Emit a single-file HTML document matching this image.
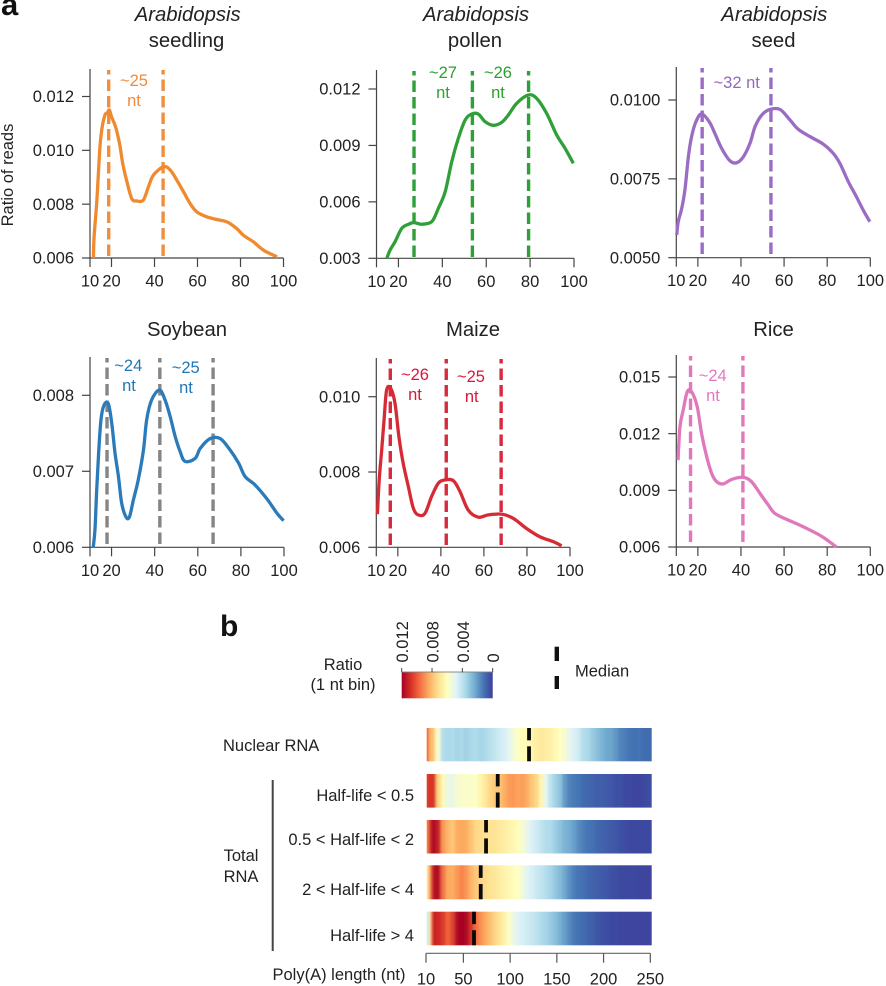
<!DOCTYPE html>
<html lang="en">
<head>
<meta charset="utf-8">
<title>Poly(A) length distributions</title>
<style>
html,body{margin:0;padding:0;background:#fff;}
svg{display:block;}
text{font-family:"Liberation Sans",sans-serif;fill:#222;font-size:16.5px;}
.title{font-size:20.3px;text-anchor:middle;}
.ann{text-anchor:middle;}
.end{text-anchor:end;}
</style>
</head>
<body>
<svg id="figure" xmlns="http://www.w3.org/2000/svg" width="886" height="986" viewBox="0 0 886 986">
  <rect width="886" height="986" fill="#fff"/>
  <text x="1" y="15" style="font-size:31px;font-weight:bold;fill:#111">a</text>
  <text x="220" y="636" style="font-size:30px;font-weight:bold;fill:#111">b</text>

  <text transform="translate(13,175) rotate(-90)" text-anchor="middle">Ratio of reads</text>

  <text class="title" x="187.7" y="21" font-style="italic">Arabidopsis</text>
  <text class="title" x="186.5" y="47">seedling</text>
  <text class="title" x="476" y="21" font-style="italic">Arabidopsis</text>
  <text class="title" x="475" y="47">pollen</text>
  <text class="title" x="774.3" y="21" font-style="italic">Arabidopsis</text>
  <text class="title" x="773.5" y="47">seed</text>
  <text class="title" x="187" y="336">Soybean</text>
  <text class="title" x="473" y="336">Maize</text>
  <text class="title" x="773.5" y="336">Rice</text>

  <g id="plots"></g>

  <text class="ann" x="134" y="86" style="fill:#f08a3c">~25</text>
  <text class="ann" x="134" y="106" style="fill:#f08a3c">nt</text>
  <text class="ann" x="443" y="78" style="fill:#2ca02c">~27</text>
  <text class="ann" x="443" y="98" style="fill:#2ca02c">nt</text>
  <text class="ann" x="498" y="78" style="fill:#2ca02c">~26</text>
  <text class="ann" x="498" y="98" style="fill:#2ca02c">nt</text>
  <text class="ann" x="736.7" y="88" style="fill:#9467bd">~32 nt</text>
  <text class="ann" x="128.3" y="371" style="fill:#1f77b4">~24</text>
  <text class="ann" x="129" y="391" style="fill:#1f77b4">nt</text>
  <text class="ann" x="185.7" y="373" style="fill:#1f77b4">~25</text>
  <text class="ann" x="186" y="393" style="fill:#1f77b4">nt</text>
  <text class="ann" x="415" y="380" style="fill:#d9163c">~26</text>
  <text class="ann" x="415" y="400" style="fill:#d9163c">nt</text>
  <text class="ann" x="471" y="382" style="fill:#d9163c">~25</text>
  <text class="ann" x="471.7" y="402" style="fill:#d9163c">nt</text>
  <text class="ann" x="712.7" y="381" style="fill:#e377c2">~24</text>
  <text class="ann" x="713" y="401" style="fill:#e377c2">nt</text>

  <text x="343" y="670" text-anchor="middle">Ratio</text>
  <text x="343" y="690" text-anchor="middle">(1 nt bin)</text>
  <g id="colorbar"></g>

  <rect x="554.6" y="646.7" width="4.4" height="14.3" fill="#111"/>
  <rect x="554.6" y="676" width="4.4" height="13" fill="#111"/>
  <text x="575" y="676.5">Median</text>

  <text x="223" y="751">Nuclear RNA</text>
  <text class="end" x="414" y="801">Half-life &lt; 0.5</text>
  <text class="end" x="414" y="845">0.5 &lt; Half-life &lt; 2</text>
  <text class="end" x="414" y="895">2 &lt; Half-life &lt; 4</text>
  <text class="end" x="414" y="941">Half-life &gt; 4</text>
  <text x="241" y="861" text-anchor="middle">Total</text>
  <text x="241" y="882" text-anchor="middle">RNA</text>
  <line x1="272.7" y1="780" x2="272.7" y2="951" stroke="#444" stroke-width="2"/>
  <text x="272.5" y="980">Poly(A) length (nt)</text>

  <g id="heatmap"></g>
</svg>

<script>
// ---------- Panel a: line plot data ----------
const seedlingLengths = [11.6,11.9,13.1,13.9,14.7,15.7,17,18,19,20,21.6,22.7,24,25.2,27,29.4,31.7,34.8,37.2,39.5,44.2,47.3,50.4,53.5,56.6,59.7,64.3,69,73.7,78.3,81.4,86,90.7,97];
const seedlingRatios = [.006,.00678,.00802,.00914,.0102,.01088,.01132,.01138,.0115,.01125,.01094,.01063,.01014,.00952,.00889,.00821,.00812,.00815,.00865,.00908,.00939,.00927,.00889,.00846,.00802,.00771,.00753,.00743,.00734,.00709,.00684,.0066,.00629,.00604];
const seedlingPeaks = [18.7,44];
const seedlingTicks = [.006,.008,.010,.012];

const pollenLengths = [14.7,16.2,18.5,21.5,24.6,27.1,30.6,35.2,38.2,41.3,44.3,47.3,50.4,53.4,56.4,59.5,63.3,67.1,70.1,73.9,79.2,83,87.5,92.1,95.9,99.7];
const pollenRatios = [.003,.00344,.00389,.00459,.00481,.0049,.00481,.00495,.00566,.00654,.00814,.00938,.01035,.01067,.01067,.01026,.01007,.01023,.01062,.01124,.01168,.0115,.01071,.00956,.00885,.00805];
const pollenPeaks = [27.1,53.7,79.3];
const pollenTicks = [.003,.006,.009,.012];

const seedLengths = [10.2,10.9,12.5,14,15.6,17.1,19.1,21.7,25.3,27.9,31,34.9,38,41.1,44.2,46.5,49.6,53.4,58.1,62.7,66.6,72,78.2,82.8,85.9,89.8,93.6,96.7,99.8];
const seedRatios = [.00572,.00614,.00656,.00715,.0082,.00884,.00931,.00956,.00931,.00894,.00847,.00807,.00801,.0082,.00863,.00915,.00952,.0097,.0097,.00937,.00907,.00884,.0086,.00831,.00799,.00741,.00693,.00651,.00614];
const seedPeaks = [22,53.9];
const seedTicks = [.005,.0075,.01];

const soybeanLengths = [11.5,12.3,13.1,14,15.1,16.5,18.5,20.1,21.6,23.2,24.7,26.7,28.3,30.1,32.4,34.8,36.3,38.6,42.2,44.8,47.2,49.5,51.8,54.1,58.8,61.1,65.7,70.4,75,78.9,82,86.6,92,96.7,99.8];
const soybeanRatios = [.006,.00623,.00675,.00724,.00768,.00787,.00789,.00763,.00724,.00693,.00658,.0064,.0064,.00662,.00689,.00728,.00768,.00794,.00807,.00794,.00772,.00746,.00726,.00713,.00717,.0073,.00743,.00743,.00728,.00711,.00693,.00682,.00664,.00645,.00635];
const soybeanPeaks = [17.9,42.4,67.1];
const soybeanTicks = [.006,.007,.008];

const maizeLengths = [10.5,11.4,12.5,13.6,14.8,16.7,18.7,20.5,22.5,24.9,27.2,29.5,32.6,35.7,38.8,41.9,45.8,48.9,52.7,57.4,62,68.2,73.6,79.8,86,92.2,96.1];
const maizeRatios = [.00688,.00783,.00858,.00938,.01018,.01022,.00982,.00894,.00823,.00761,.00704,.00686,.0069,.00735,.0077,.00779,.00777,.00748,.00699,.0068,.00686,.00688,.00677,.0065,.00628,.00615,.00604];
const maizePeaks = [16.5,42.5,68];
const maizeTicks = [.006,.008,.010];

const riceLengths = [10.8,11.7,13.2,15.1,17.1,19.7,21.7,24.1,26.4,28.7,31.8,35.7,41.1,44.9,48.8,52.7,55.7,61.2,67.3,73.5,78.2,84.3];
const riceRatios = [.0106,.01237,.01325,.01422,.01422,.01343,.01202,.01078,.0099,.00946,.00934,.00958,.00969,.00946,.00884,.00822,.00778,.00746,.00716,.00681,.00651,.006];
const ricePeaks = [16.6,40.9];
const riceTicks = [.006,.009,.012,.015];

const lengthTicks = [10,20,40,60,80,100];

// ---------- Panel b: heatmap data ----------
const binStarts = [10,12,14,16,18,20,25,30,35,40,45,50,55,60,65,70,75,80,85,90,95,100,105,110,115,120,125,130,135,140,145,150,155,160,165,170,175,180,185,190,195,200,205,210,215,220,225,230,235,240,245,250];
const nuclearValues = [.0098,.0085,.0078,.0084,.0066,.0056,.0038,.0036,.0037,.0035,.0036,.0034,.0036,.0037,.0035,.0036,.0039,.0041,.0044,.0046,.0049,.0055,.0059,.0061,.0062,.0064,.0067,.0069,.0067,.0066,.0063,.006,.0056,.0051,.0047,.0044,.0038,.0036,.0032,.0029,.0026,.0023,.0022,.0019,.0015,.0014,.0012,.0011,.0012,.001,.001,.001];
const halfLifeUnder05Values = [.0105,.0108,.0108,.0108,.0104,.0075,.0062,.0052,.0052,.0056,.0058,.0058,.0058,.0059,.0064,.0069,.0074,.0077,.0078,.0083,.0087,.0088,.0086,.0087,.0084,.0078,.0074,.0063,.005,.004,.0034,.003,.002,.0015,.0013,.0012,.001,.0009,.0008,.0007,.0007,.0006,.0005,.0004,.0004,.0002,.0002,.0001,.0001,.0002,.0003,.0004];
const halfLife05To2Values = [.0092,.0105,.0115,.0118,.0118,.0112,.0088,.0082,.0078,.0084,.0085,.0084,.0079,.0074,.0073,.0072,.0071,.0071,.0069,.0067,.0065,.0063,.0061,.0056,.0051,.0047,.0044,.0041,.0038,.0037,.0033,.003,.0026,.0024,.0021,.0017,.0014,.0012,.0011,.0009,.0008,.0007,.0006,.0005,.0004,.0003,.0002,.0002,.0002,.0002,.0002,.0002];
const halfLife2To4Values = [.0068,.0085,.0102,.0115,.0118,.0116,.0095,.0085,.0084,.0088,.0092,.0088,.0082,.0078,.0075,.0073,.0071,.007,.0067,.0065,.0063,.0061,.006,.0054,.0049,.0046,.0043,.0041,.0038,.0035,.0031,.0028,.0023,.0018,.0014,.0012,.0011,.0009,.0008,.0007,.0006,.0005,.0004,.0003,.0002,.0002,.0002,.0002,.0001,.0001,.0001,.0001];
const halfLifeOver4Values = [.0042,.0062,.0095,.0112,.0112,.011,.0106,.0098,.0104,.0118,.0119,.0118,.0108,.0096,.009,.0085,.008,.0075,.0071,.0066,.0059,.0053,.0048,.0046,.0044,.0042,.004,.0037,.0035,.0032,.0029,.0025,.0021,.0017,.0013,.0011,.001,.0008,.0007,.0005,.0004,.0003,.0002,.0002,.0001,.0001,.0001,.0001,.0001,.0001,.0001,.0001];
const nuclearMedian = 119.5;
const halfLifeUnder05Median = 86;
const halfLife05To2Median = 73.5;
const halfLife2To4Median = 67.8;
const halfLifeOver4Median = 60.6;
const heatmapTicks = [10,50,100,150,200,250];
const colorbarTicks = [.012,.008,.004,0];

// ---------- Drawing helpers ----------
const SVGNS = 'http://www.w3.org/2000/svg';
function make(parent, tag, attrs, text) {
  const el = document.createElementNS(SVGNS, tag);
  for (const k in attrs) el.setAttribute(k, attrs[k]);
  if (text !== undefined) el.textContent = text;
  parent.appendChild(el);
  return el;
}

function smoothPath(p) {
  let d = 'M' + p[0][0].toFixed(2) + ' ' + p[0][1].toFixed(2);
  for (let i = 0; i < p.length - 1; i++) {
    const a = p[Math.max(0, i - 1)], b = p[i], c = p[i + 1], e = p[Math.min(p.length - 1, i + 2)];
    const c1x = b[0] + (c[0] - a[0]) / 6, c1y = b[1] + (c[1] - a[1]) / 6;
    const c2x = c[0] - (e[0] - b[0]) / 6, c2y = c[1] - (e[1] - b[1]) / 6;
    d += 'C' + c1x.toFixed(2) + ' ' + c1y.toFixed(2) + ' ' + c2x.toFixed(2) + ' ' + c2y.toFixed(2) + ' ' + c[0].toFixed(2) + ' ' + c[1].toFixed(2);
  }
  return d;
}

function linePlot(cfg) {
  const root = document.getElementById('plots');
  const g = make(root, 'g', {});
  
  
  const xScale = v => cfg.xLeft + (v - 10) / 90 * (cfg.xRight - cfg.xLeft);
  const yScale = v => cfg.yBottom - (v - cfg.yLow) / (cfg.yHigh - cfg.yLow) * (cfg.yBottom - cfg.yHighPx);

  cfg.peaks.forEach(function (p) {
    const peak = make(g, 'line', {x1: xScale(p), x2: xScale(p), y1: cfg.yTop + 1, y2: cfg.yBottom,
      stroke: cfg.peakColor, 'stroke-width': 3.4, 'stroke-dasharray': '11.5 5', 'stroke-dashoffset': 7});
    
    
  });

  const yAxis = make(g, 'line', {x1: cfg.xLeft, x2: cfg.xLeft, y1: cfg.yTop, y2: cfg.yBottom, stroke: '#444', 'stroke-width': 1.2});
  
  
  const xAxis = make(g, 'line', {x1: cfg.xLeft, x2: cfg.xRight, y1: cfg.yBottom, y2: cfg.yBottom, stroke: '#444', 'stroke-width': 1.2});
  
  

  cfg.yTicks.forEach(function (t) {
    const y = yScale(t);
    const tick = make(g, 'line', {x1: cfg.xLeft - 8, x2: cfg.xLeft, y1: y, y2: y, stroke: '#444', 'stroke-width': 1.2});
    
    
    const label = make(g, 'text', {x: cfg.xLeft - 16, y: y + 5.6, 'text-anchor': 'end'}, t.toFixed(cfg.decimals));
    
    
  });

  lengthTicks.forEach(function (t) {
    const x = xScale(t);
    const tick = make(g, 'line', {x1: x, x2: x, y1: cfg.yBottom, y2: cfg.yBottom + 9, stroke: '#444', 'stroke-width': 1.2});
    
    
    const label = make(g, 'text', {x: x, y: cfg.yBottom + 28.5, 'text-anchor': 'middle'}, String(t));
    
    
  });

  const pts = cfg.lengths.map((l, i) => [xScale(l), yScale(cfg.ratios[i])]);
  const curve = make(g, 'path', {d: smoothPath(pts), fill: 'none', stroke: cfg.color, 'stroke-width': 3.3, 'stroke-linejoin': 'round', 'stroke-linecap': 'butt'});
  
  
}

linePlot({name:'seedling', lengths:seedlingLengths, ratios:seedlingRatios, peaks:seedlingPeaks, yTicks:seedlingTicks, decimals:3,
  xLeft:90, xRight:283.5, yBottom:258, yTop:69, yLow:.006, yHigh:.012, yHighPx:96.5, color:'#ef8a2f', peakColor:'#ef8f3f'});
linePlot({name:'pollen', lengths:pollenLengths, ratios:pollenRatios, peaks:pollenPeaks, yTicks:pollenTicks, decimals:3,
  xLeft:376.5, xRight:574, yBottom:258.3, yTop:70, yLow:.003, yHigh:.012, yHighPx:89, color:'#2fa038', peakColor:'#2fa038'});
linePlot({name:'seed', lengths:seedLengths, ratios:seedRatios, peaks:seedPeaks, yTicks:seedTicks, decimals:4,
  xLeft:676.3, xRight:870.3, yBottom:257.7, yTop:67, yLow:.005, yHigh:.01, yHighPx:100, color:'#9a6cc4', peakColor:'#9a6cc4'});
linePlot({name:'soybean', lengths:soybeanLengths, ratios:soybeanRatios, peaks:soybeanPeaks, yTicks:soybeanTicks, decimals:3,
  xLeft:90, xRight:284, yBottom:547.3, yTop:357, yLow:.006, yHigh:.008, yHighPx:395.3, color:'#2b7bba', peakColor:'#858585'});
linePlot({name:'maize', lengths:maizeLengths, ratios:maizeRatios, peaks:maizePeaks, yTicks:maizeTicks, decimals:3,
  xLeft:376.3, xRight:570, yBottom:547.3, yTop:358, yLow:.006, yHigh:.01, yHighPx:396.7, color:'#d62b35', peakColor:'#d62b3f'});
linePlot({name:'rice', lengths:riceLengths, ratios:riceRatios, peaks:ricePeaks, yTicks:riceTicks, decimals:3,
  xLeft:676.3, xRight:870.3, yBottom:547, yTop:355, yLow:.006, yHigh:.015, yHighPx:377, color:'#e078bc', peakColor:'#e078bc'});

// ---------- Colour scale ----------
const paletteColors = ['#3b3f9c','#4575b4','#74add1','#abd9e9','#e0f3f8','#ffffbf','#fee090','#fdae61','#f46d43','#d73027','#a50026'];
function colorFor(v) {
  const t = Math.max(0, Math.min(1, v / 0.012)) * (paletteColors.length - 1);
  const i = Math.min(paletteColors.length - 2, Math.floor(t));
  const f = t - i;
  const a = parseInt(paletteColors[i].slice(1), 16), b = parseInt(paletteColors[i + 1].slice(1), 16);
  const ch = s => Math.round(((a >> s) & 255) * (1 - f) + ((b >> s) & 255) * f);
  return 'rgb(' + ch(16) + ',' + ch(8) + ',' + ch(0) + ')';
}

// ---------- Colorbar ----------
(function () {
  const g = document.getElementById('colorbar');
  const defs = make(g, 'defs', {});
  const grad = make(defs, 'linearGradient', {id: 'colorbar-gradient', x1: 0, x2: 1, y1: 0, y2: 0});
  const n = paletteColors.length - 1;
  for (let i = n; i >= 0; i--) {
    make(grad, 'stop', {offset: (n - i) / n, 'stop-color': paletteColors[i]});
  }
  const barScale = v => 492.7 - v / 0.012 * (492.7 - 401.7);
  const bar = make(g, 'rect', {x: 401.7, y: 672.3, width: 91, height: 26, fill: 'url(#colorbar-gradient)'});
  
  
  const axis = make(g, 'line', {x1: 401.7, x2: 492.7, y1: 672, y2: 672, stroke: '#666', 'stroke-width': 0.8});
  
  
  colorbarTicks.forEach(function (t) {
    const x = barScale(t);
    const tick = make(g, 'line', {x1: x, x2: x, y1: 668, y2: 672.3, stroke: '#444', 'stroke-width': 1});
    
    
    const label = make(g, 'text', {transform: 'translate(' + (x + 6.5) + ',662.5) rotate(-90)'}, t === 0 ? '0' : t.toFixed(3));
    
    
  });
})();

// ---------- Heatmap ----------
(function () {
  const g = document.getElementById('heatmap');
  const xScale = v => 426 + (v - 10) * 0.9346;
  const defs = make(g, 'defs', {});
  const blur = make(defs, 'filter', {id: 'soften', x: '-2%', width: '104%', y: 0, height: '100%'});
  make(blur, 'feGaussianBlur', {stdDeviation: '1.3 0'});
  const clip = make(defs, 'clipPath', {id: 'bar-clip'});
  make(clip, 'rect', {x: 426.7, y: 720, width: 225, height: 232});

  const rows = [
    {name: 'nuclear-rna', values: nuclearValues, median: nuclearMedian, top: 728, bottom: 761.3},
    {name: 'half-life-under-0-5', values: halfLifeUnder05Values, median: halfLifeUnder05Median, top: 774, bottom: 807.6},
    {name: 'half-life-0-5-to-2', values: halfLife05To2Values, median: halfLife05To2Median, top: 820, bottom: 853.5},
    {name: 'half-life-2-to-4', values: halfLife2To4Values, median: halfLife2To4Median, top: 865.3, bottom: 899.3},
    {name: 'half-life-over-4', values: halfLifeOver4Values, median: halfLifeOver4Median, top: 911.7, bottom: 945.3}
  ];

  rows.forEach(function (row) {
    const clipGroup = make(g, 'g', {'clip-path': 'url(#bar-clip)'});
    const rowGroup = make(clipGroup, 'g', {filter: 'url(#soften)'});
    
    
    row.values.forEach(function (v, i) {
      const x0 = i === 0 ? 420 : xScale(binStarts[i]) + 0.7;
      const x1 = i + 1 < binStarts.length ? xScale(binStarts[i + 1]) + 0.7 : 658;
      const cell = make(rowGroup, 'rect', {x: x0, y: row.top, width: x1 - x0 + 0.4, height: row.bottom - row.top, fill: colorFor(v)});
      
      
    });
    const mx = xScale(row.median) + 0.7;
    const h = row.bottom - row.top;
    const dashTop = make(g, 'rect', {x: mx - 1.9, y: row.top, width: 3.8, height: h * 0.37, fill: '#0a0a0a'});
    
    
    const dashBottom = make(g, 'rect', {x: mx - 1.9, y: row.top + h * 0.55, width: 3.8, height: h * 0.45, fill: '#0a0a0a'});
    
    
  });

  const axis = make(g, 'line', {x1: xScale(10), x2: xScale(250), y1: 953.3, y2: 953.3, stroke: '#666', 'stroke-width': 1.2});
  
  
  heatmapTicks.forEach(function (t) {
    const x = xScale(t);
    const tick = make(g, 'line', {x1: x, x2: x, y1: 953.3, y2: 962.7, stroke: '#555', 'stroke-width': 1.2});
    
    
    const label = make(g, 'text', {x: x, y: 984.5, 'text-anchor': 'middle'}, String(t));
    
    
  });
})();
</script>
</body>
</html>
